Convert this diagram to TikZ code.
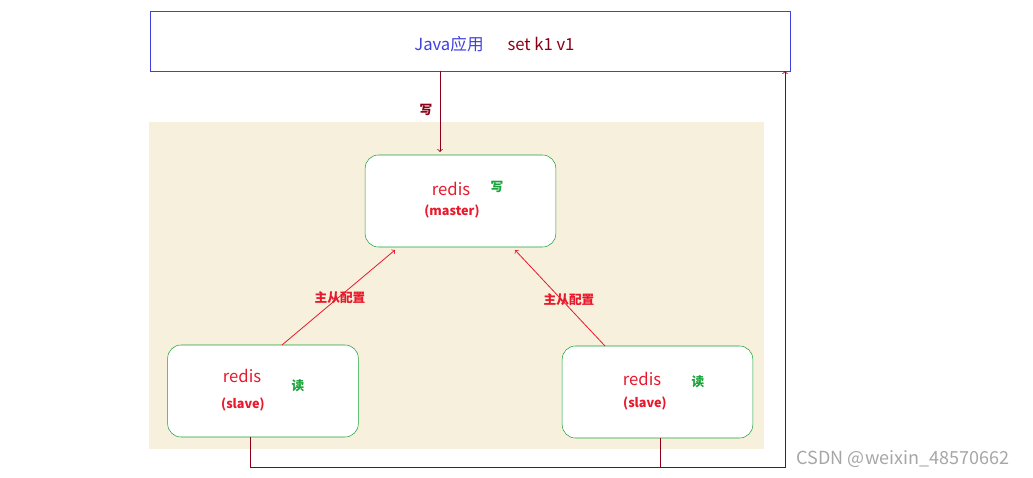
\documentclass[tikz,border=0pt]{standalone}
\usepackage{fontspec}
\setmainfont{Noto Sans CJK SC}
\definecolor{beige}{HTML}{F7F0DC}
\definecolor{dred}{HTML}{8B0016}
\definecolor{rred}{HTML}{E8192C}
\definecolor{gg}{HTML}{1AA33A}
\definecolor{bb}{HTML}{4040E0}
\begin{document}
\begin{tikzpicture}[x=0.75pt,y=-0.75pt,
  box/.style={draw=gg,fill=white,rounded corners=10pt,minimum width=143pt,minimum height=69pt},
  ln/.style={dred,line width=0.6pt},
  arr/.style={ln,-to},
  big/.style={font=\fontsize{12.5}{13}\selectfont},
  lab/.style={font=\fontsize{9.5}{10}\selectfont\bfseries}]
\useasboundingbox (0,0) rectangle (1033,478);
\fill[beige] (149,122) rectangle (764,449);
\node[draw=bb,minimum width=480pt,minimum height=45pt] (java) at (470,41) {};
\node[bb,big] (jt) at (449,44) {Java应用};
\node[dred,big] (st) at (541,44) {set k1 v1};
\node[box] (m) at (460.5,201) {};
\node[box] (l) at (263,391) {};
\node[box] (r) at (657.5,392) {};
\node[rred,big] at (451,189) {redis};
\node[gg,lab] at (497,187) {写};
\node[rred,lab] at (452,211) {(master)};
\node[rred,big] at (242,376) {redis};
\node[gg,lab] at (298,386) {读};
\node[rred,lab] at (243,404) {(slave)};
\node[rred,big] at (642,379) {redis};
\node[gg,lab] at (698,382) {读};
\node[rred,lab] at (645,403) {(slave)};
\coordinate (jb) at (440,71);
\coordinate (mt) at (440,152);
\draw[arr] (jb) -- (mt);
\node[dred,lab] at (426,110) {写};
\coordinate (lt) at (282,345);
\coordinate (ml) at (395,250);
\draw[arr,rred] (lt) -- (ml);
\node[rred,lab] at (340,298) {主从配置};
\coordinate (rt) at (605,346);
\coordinate (mr) at (515,250);
\draw[arr,rred] (rt) -- (mr);
\node[rred,lab] at (569,300) {主从配置};
\coordinate (lb) at (250,437);
\coordinate (rb) at (660,438);
\coordinate (c1) at (250,467);
\coordinate (c2) at (785,467);
\coordinate (jr) at (785,71);
\draw[arr] (lb) -- (c1) -- (c2) -- (jr);
\draw[ln] (rb) -- (660,467);
\node[gray!70,font=\fontsize{13.5}{14}\selectfont] at (903,459) {CSDN @weixin\_48570662};
\end{tikzpicture}
\end{document}
